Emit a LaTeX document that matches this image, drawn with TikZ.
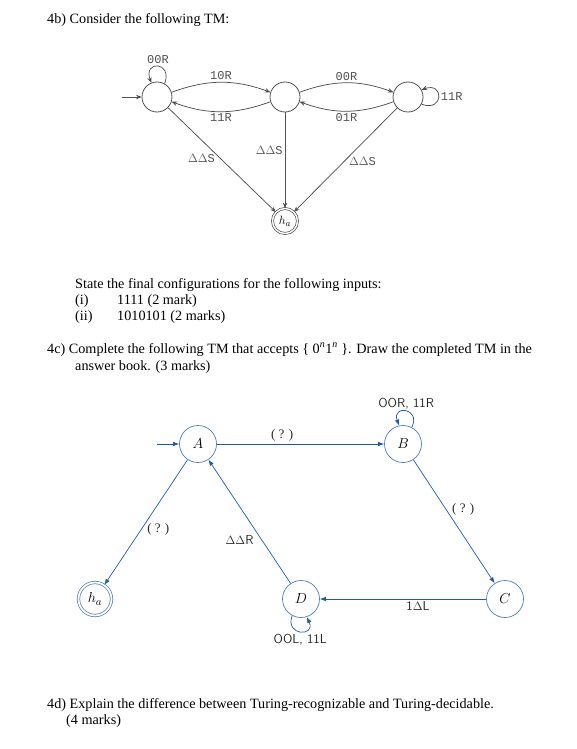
\documentclass[tikz,border=0pt]{standalone}
\usepackage{fontspec}
\setmainfont{Liberation Serif}
\newfontfamily\monof{Liberation Mono}
\usetikzlibrary{arrows.meta}
\definecolor{tmgray}{HTML}{505050}
\definecolor{tmblue}{HTML}{4F7DB3}
\definecolor{tmarrow}{HTML}{1E5AA8}
\begin{document}
\begin{tikzpicture}[x=1pt,y=1pt,
  txt/.style={anchor=base west, inner sep=0pt, font=\fontsize{14.2}{16}\selectfont},
  gstate/.style={circle, draw=tmgray, line width=0.8pt, minimum size=30pt, inner sep=0pt},
  gacc/.style={circle, draw=tmgray, line width=0.7pt, double=white, double distance=1.4pt, minimum size=25pt, inner sep=0pt},
  garrow/.style={draw=tmgray, line width=0.75pt, -{Stealth[length=5.5pt,width=4.5pt]}},
  glab/.style={font=\monof\fontsize{12}{14}\selectfont, text=tmgray, inner sep=2pt},
  bstate/.style={circle, draw=tmblue, line width=0.7pt, minimum size=37pt, inner sep=0pt, font=\fontsize{15}{17}\selectfont},
  bacc/.style={circle, draw=tmblue, line width=0.7pt, double=white, double distance=1.8pt, minimum size=33pt, inner sep=0pt, font=\fontsize{15}{17}\selectfont},
  barrow/.style={draw=tmblue, line width=0.7pt, -{Latex[length=6pt,width=4.5pt]}, tmarrow},
  blab/.style={font=\sffamily\fontsize{13}{15}\selectfont, text=black!85, inner sep=2pt},
  qlab/.style={font=\fontsize{13}{15}\selectfont, text=black!85, inner sep=2pt}
]
\useasboundingbox (0,0) rectangle (576,-749);

% ---------- texts ----------
\node[txt] (t1) at (47,-24) {4b) Consider the following TM:};
\node[txt] (t2) at (75,-288) {State the final configurations for the following inputs:};
\node[txt] (t3) at (75,-304) {(i)};
\node[txt] (t4) at (117,-304) {1111 (2 mark)};
\node[txt] (t5) at (75,-320) {(ii)};
\node[txt] (t6) at (117,-320) {1010101 (2 marks)};
\node[txt] (t7) at (47,-353) {4c) Complete the following TM that accepts \{ 0\textsuperscript{\textit{n}}1\textsuperscript{\textit{n}} \}. Draw the completed TM in the};
\node[txt] (t8) at (75,-370) {answer book. (3 marks)};
\node[txt] (t9) at (47,-708) {4d) Explain the difference between Turing-recognizable and Turing-decidable.};
\node[txt] (t10) at (66,-724) {(4 marks)};

% ---------- top TM ----------
\node[gstate] (s1) at (157,-97) {};
\node[gstate] (s2) at (285,-97) {};
\node[gstate] (s3) at (408,-97) {};
\node[gacc] (ha) at (285,-221) {\fontsize{13}{15}\selectfont$h_a$};
\coordinate (st) at (122,-97);

\draw[garrow] (st) -- (s1);
\draw[garrow] (s1.60) .. controls +(70:24) and +(110:24) .. (s1.112) node[glab, pos=0.5, above] {00R};
\draw[garrow] (s1.18) to[bend left=20] node[glab, above] {10R} (s2.162);
\draw[garrow] (s2.198) to[bend left=20] node[glab, below] {11R} (s1.-18);
\draw[garrow] (s2.18) to[bend left=20] node[glab, above] {00R} (s3.162);
\draw[garrow] (s3.198) to[bend left=20] node[glab, below] {01R} (s2.-18);
\draw[garrow] (s3.-28) .. controls +(-20:24) and +(20:24) .. (s3.28) node[glab, pos=0.5, right] {11R};
\draw[garrow] (s1) -- node[glab, pos=0.42, below left, xshift=4pt] {$\Delta\Delta$S} (ha);
\draw[garrow] (s2) -- node[glab, pos=0.4, left] {$\Delta\Delta$S} (ha);
\draw[garrow] (s3) -- node[glab, pos=0.45, below right, xshift=-4pt] {$\Delta\Delta$S} (ha);

% ---------- bottom TM ----------
\node[bstate] (A) at (198,-444) {$A$};
\node[bstate] (B) at (403,-444) {$B$};
\node[bstate] (C) at (505,-599) {$C$};
\node[bstate] (D) at (301,-599) {$D$};
\node[bacc] (h2) at (95,-599) {$h_a$};
\coordinate (st2) at (157,-444);

\draw[barrow] (st2) -- (A);
\draw[barrow] (A) -- node[qlab, pos=0.39, above] {( ? )} (B);
\draw[barrow] (B.62) .. controls +(65:22) and +(110:22) .. (B.102) node[blab, pos=0.5, above] {OOR, 11R};
\draw[barrow] (B) -- node[qlab, pos=0.4, right, xshift=4pt] {( ? )} (C);
\draw[barrow] (C) -- node[blab, pos=0.41, below] {1$\Delta$L} (D);
\draw[barrow] (D) -- node[blab, pos=0.35, left, xshift=-6pt] {$\Delta\Delta$R} (A);
\draw[barrow] (A) -- node[qlab, pos=0.56, right, xshift=4pt] {( ? )} (h2);
\draw[barrow] (D.-118) .. controls +(-110:22) and +(-65:22) .. (D.-72) node[blab, pos=0.5, below] {OOL, 11L};
\end{tikzpicture}
\end{document}
